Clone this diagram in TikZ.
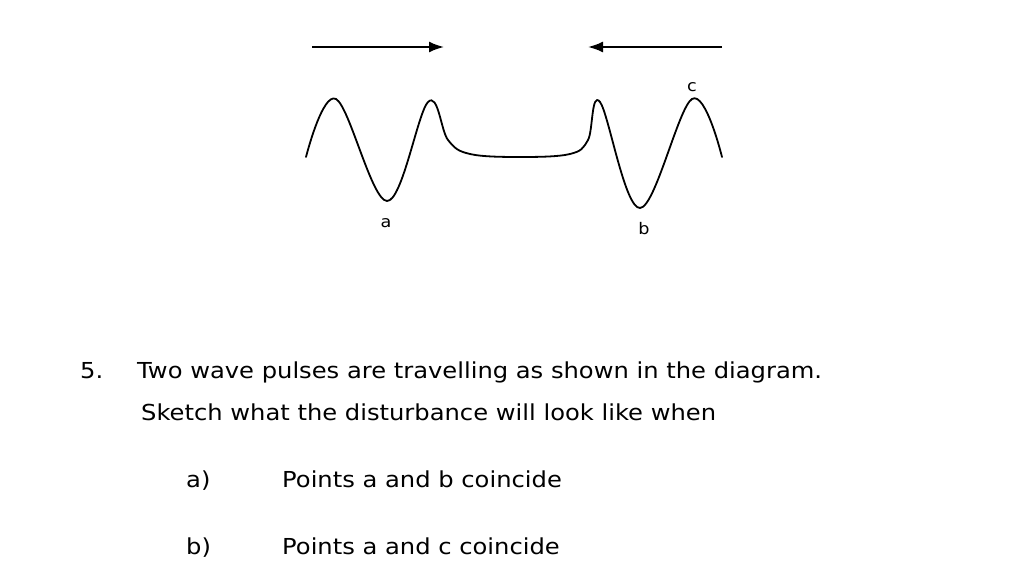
\documentclass[tikz,border=0pt]{standalone}
\usepackage{fontspec}
\setmainfont{DejaVu Sans}[FakeStretch=1.1]
\usetikzlibrary{arrows.meta}
\begin{document}
\begin{tikzpicture}[x=1pt,y=-1pt,
  wave/.style={line width=1.8pt,line cap=round},
  arr/.style={line width=2pt,-{Latex[length=15pt,width=11pt]}},
  lbl/.style={font=\fontsize{16}{18}\selectfont,inner sep=0pt},
  txt/.style={font=\fontsize{22}{26}\selectfont,anchor=base west,inner sep=0pt}]
\useasboundingbox (0,0) rectangle (1023,570);
\coordinate (l1) at (312,47); \coordinate (l2) at (444,47);
\coordinate (r1) at (722,47); \coordinate (r2) at (588,47);
\draw[arr] (l1) -- (l2);
\draw[arr] (r1) -- (r2);
\draw[wave] plot[smooth,tension=0.6] coordinates {(306,157) (336,99) (387,201) (428,102) (448,140) (470,154) (520,157) (570,154) (588,140) (600,102) (640,208) (692,99) (722,157)};
\node[lbl] (a) at (386,223) {a};
\node[lbl] (b) at (644,229) {b};
\node[lbl] (c) at (692,87) {c};
\node[txt] (n5) at (80,378) {5.};
\node[txt] (t1) at (137,378) {Two wave pulses are travelling as shown in the diagram.};
\node[txt] (t2) at (141,420) {Sketch what the disturbance will look like when};
\node[txt] (pa) at (186,487) {a)};
\node[txt] (ta) at (282,487) {Points a and b coincide};
\node[txt] (pb) at (186,554) {b)};
\node[txt] (tb) at (282,554) {Points a and c coincide};
\end{tikzpicture}
\end{document}
